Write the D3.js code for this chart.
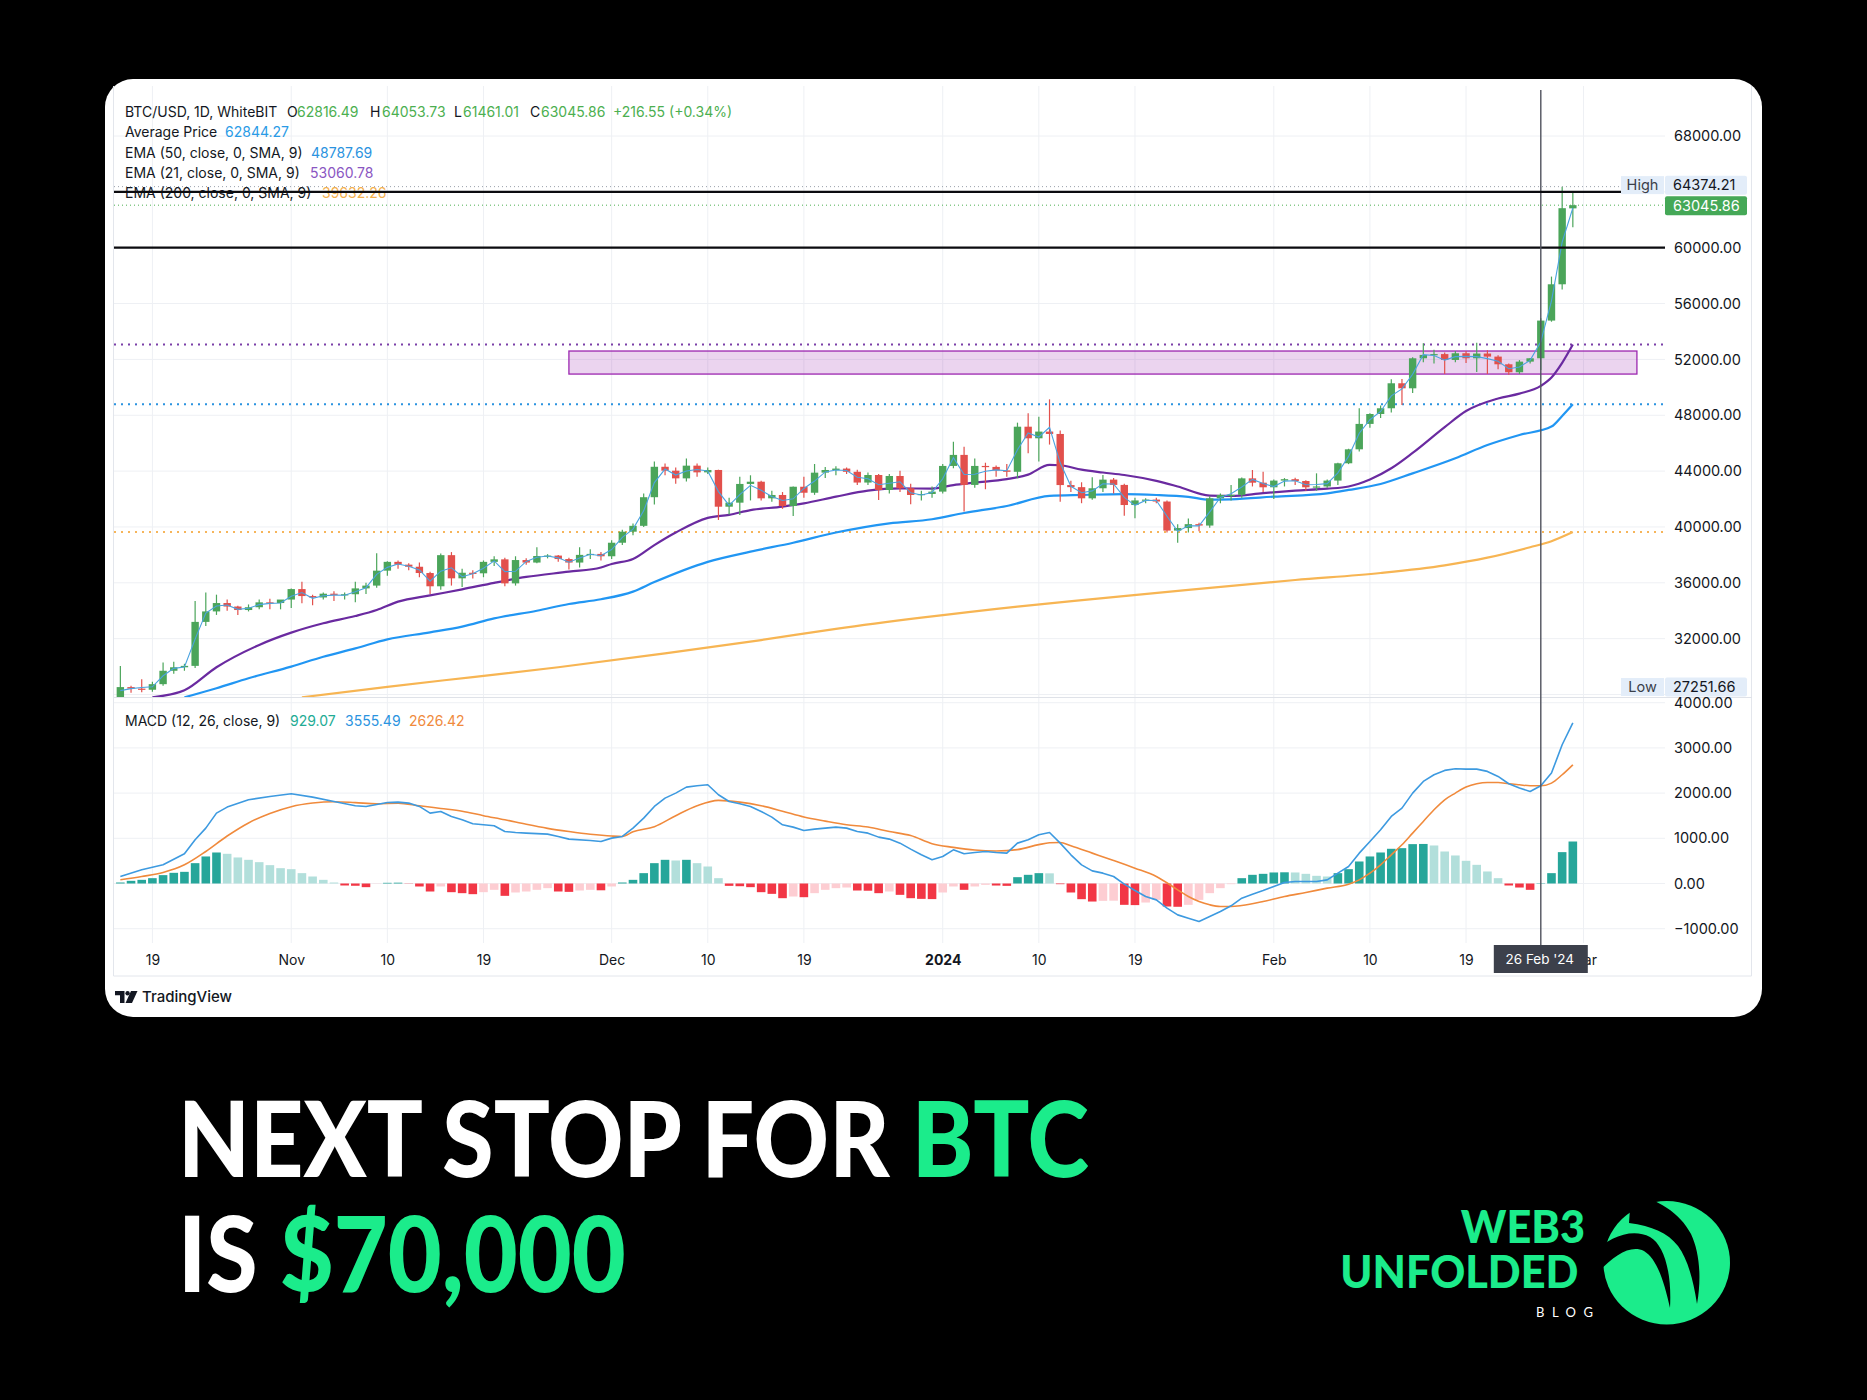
<!DOCTYPE html>
<html>
<head>
<meta charset="utf-8">
<script src="https://cdn.jsdelivr.net/npm/d3@7"></script>
<style>
  html, body { margin: 0; padding: 0; background: #000; }
  svg { display: block; }
</style>
</head>
<body>
<svg id="chart" width="1867" height="1400"></svg>
<script>
// ---------------- data: BTC/USD daily, WhiteBIT ----------------
const firstDay = "2023-10-16";

const opens = [27280,28530,28420,28340,28740,29700,29950,30050,33200,33950,34550,34300,34050,34250,34600,34550,
  34800,35550,35050,34950,35220,35150,35180,35600,35800,36870,37500,37300,37150,36700,35750,37980,36320,36720,36680,37500,37680,35960,37630,37450,37920,37950,37700,37450,38000,38070,
  37900,38870,39660,40080,42130,44310,44030,43480,44390,43910,44080,41450,41740,43080,43240,42050,42290,41500,42880,42450,43890,44080,44180,43950,43180,43720,42650,43650,42770,42290,42360,
  42530,44370,45160,43010,44370,44300,44050,43950,47180,46350,46830,46660,43000,42850,42050,42770,43390,43010,41570,41900,41960,41820,39740,39920,40200,40100,42050,42290,42300,43480,43170,
  42840,43320,43420,43290,42840,42900,43320,44560,45560,47380,48090,48500,50290,49930,52080,52320,52380,51960,52440,52080,52420,52200,51650,51080,51840,52080,54780,57380,62816.49];
const highs = [30040,28620,29090,28920,30300,30350,30200,34700,35300,35150,34800,34350,34450,34800,34850,34750,
  35600,36080,35150,35300,35400,35300,36080,36000,38110,37550,37600,37400,37450,36800,38100,38200,37000,36900,37600,37900,37800,37900,37750,38540,38050,38000,37800,38540,38400,38200,
  39050,39800,40250,42400,44680,44550,44250,44900,44550,44250,44100,42100,43600,43700,43300,42600,42500,42900,43600,44510,44300,44350,44250,44100,43900,43800,43800,44030,43100,42600,42900,
  44500,46110,45750,44900,44600,44400,44500,47470,48140,47900,49140,46900,43300,43200,43560,43720,43500,43100,42100,42050,42100,41900,40200,40600,40300,42200,42400,43000,43550,44080,43960,
  43400,43500,43530,43350,43840,43400,44600,45600,48500,48150,48700,50570,50600,52150,53150,52700,52500,52600,52600,53200,52650,52300,51700,51950,52100,54950,57930,64374.21,64053.73];
const lows = [27251.66,28120,28160,28200,28620,29480,29700,29900,32900,33700,34000,33700,33950,34100,34100,34100,
  34200,34530,34400,34800,34700,34800,34600,35200,35650,36500,37000,36900,36400,35200,35500,35800,35700,36300,36400,37200,35750,35800,37300,37400,37750,37500,36960,37100,37700,37600,
  37700,38700,39400,40000,41600,43700,43100,43250,43600,43800,40500,40900,40860,41900,41900,41800,41300,40790,42100,42300,43500,43700,43800,43000,43000,41930,42400,42500,41620,41900,42100,
  42400,44200,41100,42800,42700,43600,43600,43500,45280,44680,45900,41810,42500,41700,41950,42500,42400,40800,40620,41700,41700,39600,38870,39600,39700,39950,41700,41900,42100,42900,42500,
  42000,42900,43000,42600,42600,42800,43000,44500,45400,47100,47800,48200,48740,49600,51800,51700,50950,51800,51750,51100,50950,51300,50900,50950,51700,51240,54700,57000,61461.01];
const closes = [28530,28420,28340,28740,29700,29950,30050,33200,33950,34550,34300,34050,34250,34600,34550,34800,
  35550,35050,34950,35220,35150,35180,35600,35800,36870,37500,37300,37150,36700,35750,37980,36320,36720,36680,37500,37680,35960,37630,37450,37920,37950,37700,37450,38000,38070,37900,
  38870,39660,40080,42130,44310,44030,43480,44390,43910,44080,41450,41740,43080,43240,42050,42290,41500,42880,42450,43890,44080,44180,43950,43180,43720,42650,43650,42770,42290,42360,42530,
  44370,45160,43010,44370,44300,44050,43950,47180,46350,46830,46660,43000,42850,42050,42770,43390,43010,41570,41900,41960,41820,39740,39920,40200,40100,42050,42290,42300,43480,43170,42840,
  43320,43420,43290,42840,42900,43320,44560,45560,47380,48090,48500,50290,49930,52080,52320,52380,51960,52440,52080,52420,52200,51650,51080,51840,52080,54780,57380,62829.31,63045.86];

// moving averages, [day number, value]
const ema21 = [[3,27800],[6,28300],[9,29950],[13,31550],[16,32430],[19,33100],[22,33620],[24,34050],[26,34650],[29,35100],
  [32,35530],[35,36000],[38,36420],[42,36800],[45,37100],[46,37350],[48,37700],[50,38700],[52,39600],[55,40650],[57,40870],
  [59,41200],[62,41460],[64,41690],[67,42170],[70,42600],[73,42760],[76,42750],[78,43000],[80,43170],[83,43420],[85,43750],
  [87,44440],[88,44420],[90,44100],[92,43900],[94,43720],[97,43300],[99,42900],[102,42250],[104,42220],[107,42420],[110,42600],
  [113,42740],[115,42900],[117,43400],[119,44200],[121,45300],[124,47150],[126,48300],[129,49200],[131,49550],[133,50100],
  [134,50700],[135,51750],[136,53060.78]];
const ema50 = [[6,27800],[9,28450],[12,29160],[16,30000],[19,30700],[22,31300],[25,31950],[29,32450],[32,32860],[35,33450],
  [39,34000],[42,34480],[45,34820],[48,35370],[50,36050],[55,37500],[59,38230],[63,38870],[67,39600],[72,40260],[76,40550],
  [79,41000],[83,41500],[87,42220],[90,42290],[94,42350],[97,42290],[100,42150],[102,41950],[104,41980],[108,42170],[113,42410],
  [115,42650],[118,43080],[121,43840],[125,44920],[128,45870],[131,46590],[134,47190],[135,47950],[136,48787.69]];
const ema200 = [[17,27800],[25,28550],[33,29250],[41,29950],[51,30950],[60,31900],[67,32700],[75,33500],[84,34300],[92,34900],
  [100,35500],[110,36200],[118,36700],[124,37250],[128,37800],[132,38550],[134,38980],[136,39632.26]];

// MACD (12, 26, close, 9)
const macdHist = [22,59,81,118,185,236,258,450,598,686,657,576,524,472,406,339,317,229,155,81,22,
  -44,-50,-81,-5,15,18,-5,-66,-177,-66,-192,-214,-236,-192,-140,-273,-199,-177,-140,-103,-177,-185,-155,-140,-150,-66,
  22,81,229,450,524,509,524,450,376,118,
  -52,-60,-81,-192,-229,-325,-288,-303,-214,-140,-103,-89,-155,-160,-214,-177,-251,-325,-340,-345,-199,-66,-140,-66,-30,-45,-52,
  140,192,229,225,
  -15,-199,-347,-399,-384,-380,-472,-478,-421,-362,-509,-515,-472,-362,-214,-103,-15,
  118,192,214,244,248,244,214,170,155,229,317,487,598,686,768,782,871,875,841,708,620,502,413,266,118,-44,-89,-140,8,229,694,929.07];
const macdLine = [[0,155],[2,303],[4,413],[6,657],[7,967],[8,1225],[9,1557],[10,1690],[12,1852],[14,1926],[16,1985],[18,1911],
  [20,1815],[22,1719],[23,1705],[25,1793],[26,1800],[27,1779],[28,1705],[29,1557],[30,1594],[31,1483],[32,1410],[33,1321],
  [34,1299],[35,1277],[36,1151],[37,1129],[38,1114],[40,1092],[41,1041],[42,982],[44,952],[45,930],[46,1004],[47,1041],
  [48,1225],[49,1446],[50,1705],[51,1889],[52,2000],[53,2133],[54,2162],[55,2184],[56,1963],[57,1815],[58,1764],[59,1705],
  [60,1594],[61,1469],[62,1299],[63,1247],[64,1173],[65,1203],[66,1225],[67,1247],[68,1225],[69,1151],[70,1114],[71,1026],
  [72,982],[73,893],[74,760],[75,635],[76,524],[77,598],[78,745],[79,657],[80,686],[81,708],[82,686],[83,672],[84,893],
  [85,967],[86,1077],[87,1129],[88,893],[89,635],[90,413],[91,280],[92,229],[93,155],[94,-15],[95,-155],[96,-288],[97,-362],
  [98,-546],[99,-694],[100,-768],[101,-841],[102,-731],[103,-620],[104,-494],[105,-325],[106,-236],[107,-155],[108,-66],
  [109,22],[110,44],[111,44],[112,44],[113,81],[114,229],[115,376],[116,672],[117,930],[118,1188],[119,1483],[120,1668],
  [121,2000],[122,2258],[123,2406],[124,2502],[125,2539],[126,2531],[127,2531],[128,2480],[129,2369],[130,2207],[131,2111],
  [132,2037],[133,2162],[134,2443],[135,3070],[136,3555.49]];
const signalLine = [[0,81],[2,155],[4,244],[6,413],[8,708],[10,1050],[12,1340],[14,1550],[16,1700],[18,1780],[20,1810],
  [22,1790],[24,1764],[26,1779],[28,1720],[30,1660],[32,1600],[34,1500],[36,1410],[38,1310],[40,1220],[42,1150],[44,1090],
  [46,1050],[47,1041],[48,1144],[50,1255],[52,1500],[54,1720],[56,1840],[58,1800],[60,1720],[62,1600],[64,1470],[66,1380],
  [68,1300],[70,1250],[72,1150],[74,1060],[76,880],[78,800],[80,740],[82,720],[84,750],[86,860],[87,900],[88,908],[89,834],
  [91,672],[93,509],[95,339],[97,155],[99,-140],[100,-288],[101,-399],[102,-472],[103,-509],[104,-509],[105,-487],[107,-399],
  [109,-288],[111,-199],[113,-103],[115,-15],[116,81],[117,229],[118,413],[119,635],[120,856],[121,1114],[122,1373],
  [123,1631],[124,1852],[125,2000],[126,2133],[127,2207],[128,2236],[129,2236],[130,2207],[131,2184],[132,2162],[133,2162],
  [134,2221],[135,2406],[136,2626.42]];

// drawn levels and zone
const solidLevels = [64000, 60000];
const zoneDates = ["2023-11-27", "2024-03-06"];
const zonePrices = [50950, 52600];
const cursorDate = "2024-02-26";

// axes
const priceGrid = [28000,32000,36000,40000,44000,48000,52000,56000,60000,64000,68000];
const priceTicks = [68000,60000,56000,52000,48000,44000,40000,36000,32000];
const macdTicks = [4000,3000,2000,1000,0,-1000];
const timeTicks = [["2023-10-19","19"],["2023-11-01","Nov"],["2023-11-10","10"],["2023-11-19","19"],["2023-12-01","Dec"],
  ["2023-12-10","10"],["2023-12-19","19"],["2024-01-01","2024"],["2024-01-10","10"],["2024-01-19","19"],["2024-02-01","Feb"],
  ["2024-02-10","10"],["2024-02-19","19"],["2024-03-01","Mar"]];

// ---------------- layout ----------------
const W = 1867, H = 1400;
const plotL = 114, plotR = 1665, axisR = 1752;
const priceTop = 86, priceBottom = 697, macdBottom = 943, timeBottom = 976;
const UI_FONT = "Inter, Roboto, 'Liberation Sans', sans-serif";
const TXT = "#131722";
const UP = "#4ba55a", DOWN = "#e2504c";

const parse = d3.utcParse("%Y-%m-%d");
const day0 = parse(firstDay);
const dayDate = i => d3.utcDay.offset(day0, i);

const x = d3.scaleUtc()
  .domain([parse("2023-10-19"), parse("2024-02-26")])
  .range([152.4, 1540.8]);
const yP = d3.scaleLinear().domain([28000, 68000]).range([694.5, 136]);
const yM = d3.scaleLinear().domain([-1000, 4000]).range([928.7, 702.7]);
const fmt2 = d3.format(".2f");

const svg = d3.select("#chart");
svg.append("rect").attr("width", W).attr("height", H).attr("fill", "#000");

// white card
svg.append("rect").attr("x", 105).attr("y", 79).attr("width", 1657).attr("height", 938)
  .attr("rx", 28).attr("fill", "#fff");

const defs = svg.append("defs");
defs.append("clipPath").attr("id", "clipPrice").append("rect")
  .attr("x", plotL).attr("y", priceTop).attr("width", plotR - plotL).attr("height", priceBottom - priceTop);
defs.append("clipPath").attr("id", "clipMacd").append("rect")
  .attr("x", plotL).attr("y", priceBottom).attr("width", plotR - plotL).attr("height", macdBottom - priceBottom);

// ---------------- grid ----------------
const grid = svg.append("g").attr("stroke", "#eef0f4").attr("stroke-width", 1);
grid.selectAll("line.v").data(timeTicks).join("line")
  .attr("x1", d => x(parse(d[0]))).attr("x2", d => x(parse(d[0])))
  .attr("y1", priceTop).attr("y2", macdBottom);
grid.selectAll("line.hp").data(priceGrid).join("line")
  .attr("x1", plotL).attr("x2", plotR).attr("y1", d => yP(d)).attr("y2", d => yP(d));
grid.selectAll("line.hm").data(macdTicks).join("line")
  .attr("x1", plotL).attr("x2", plotR).attr("y1", d => yM(d)).attr("y2", d => yM(d));

// frame lines of the chart widget
const frame = svg.append("g").attr("stroke", "#e3e6ec").attr("stroke-width", 1).attr("fill", "none");
frame.append("line").attr("x1", plotL - 0.5).attr("x2", plotL - 0.5).attr("y1", priceTop).attr("y2", timeBottom);
frame.append("line").attr("x1", axisR - 0.5).attr("x2", axisR - 0.5).attr("y1", priceTop).attr("y2", timeBottom);
frame.append("line").attr("x1", plotL - 0.5).attr("x2", axisR - 0.5).attr("y1", timeBottom).attr("y2", timeBottom);
frame.append("line").attr("x1", plotL).attr("x2", axisR).attr("y1", priceBottom + 0.5).attr("y2", priceBottom + 0.5)
  .attr("stroke", "#dfe2e8");

// ---------------- price pane ----------------
const gP = svg.append("g").attr("clip-path", "url(#clipPrice)");

// zone rectangle
gP.append("rect")
  .attr("x", x(parse(zoneDates[0]))).attr("width", x(parse(zoneDates[1])) - x(parse(zoneDates[0])))
  .attr("y", yP(zonePrices[1])).attr("height", yP(zonePrices[0]) - yP(zonePrices[1]))
  .attr("fill", "rgba(156,39,176,0.2)").attr("stroke", "#9c27b0").attr("stroke-width", 1.3);

const candles = opens.map((o, i) => ({ date: dayDate(i), o, h: highs[i], l: lows[i], c: closes[i] }));
const last = candles[candles.length - 1];
const prevClose = candles[candles.length - 2].c;
const maxHigh = d3.max(highs), minLow = d3.min(lows);

// value lines (dotted) at latest readings
const dotted = [
  { v: ema21[ema21.length - 1][1], color: "#7b3fa8", w: 2, dash: "2 5" },
  { v: ema50[ema50.length - 1][1], color: "#2a93e0", w: 2, dash: "2 5" },
  { v: ema200[ema200.length - 1][1], color: "#f6b55a", w: 2, dash: "2 5" },
  { v: last.c, color: "#4caf50", w: 1, dash: "1 3" }
];
gP.selectAll("line.dot").data(dotted).join("line")
  .attr("x1", plotL).attr("x2", plotR).attr("y1", d => yP(d.v)).attr("y2", d => yP(d.v))
  .attr("stroke", d => d.color).attr("stroke-width", d => d.w).attr("stroke-dasharray", d => d.dash);

// EMA lines
const emaLine = d3.line().x(p => x(dayDate(p[0]))).y(p => yP(p[1])).curve(d3.curveMonotoneX);
[[ema200, "#f7b553"], [ema50, "#2196f3"], [ema21, "#6a2aa0"]].forEach(([pts, col]) => {
  gP.append("path").datum(pts).attr("d", emaLine).attr("fill", "none")
    .attr("stroke", col).attr("stroke-width", 2.2).attr("stroke-linejoin", "round");
});

// candles
const bw = 7.4;
gP.selectAll("line.wick").data(candles).join("line")
  .attr("x1", d => x(d.date)).attr("x2", d => x(d.date))
  .attr("y1", d => yP(d.h)).attr("y2", d => yP(d.l))
  .attr("stroke", d => d.c >= d.o ? UP : DOWN).attr("stroke-width", 1.2);
gP.selectAll("rect.body").data(candles).join("rect")
  .attr("x", d => x(d.date) - bw / 2).attr("width", bw)
  .attr("y", d => yP(Math.max(d.o, d.c)))
  .attr("height", d => Math.max(1.2, Math.abs(yP(d.o) - yP(d.c))))
  .attr("fill", d => d.c >= d.o ? UP : DOWN);

// average price (OHLC/4) line
const avgLine = d3.line().x(d => x(d.date)).y(d => yP((d.o + d.h + d.l + d.c) / 4));
gP.append("path").datum(candles).attr("d", avgLine).attr("fill", "none")
  .attr("stroke", "#4aa3e0").attr("stroke-width", 1.1);

// 60000 level
gP.selectAll("line.lvl").data(solidLevels.filter(v => yP(v) >= 210)).join("line")
  .attr("x1", plotL).attr("x2", plotR).attr("y1", d => yP(d)).attr("y2", d => yP(d))
  .attr("stroke", "#0b0b0f").attr("stroke-width", 2.2);

// ---------------- MACD pane ----------------
const gM = svg.append("g").attr("clip-path", "url(#clipMacd)");
const hb = 8.6;
gM.selectAll("rect.hist").data(macdHist).join("rect")
  .attr("x", (v, i) => x(dayDate(i)) - hb / 2).attr("width", hb)
  .attr("y", v => Math.min(yM(v), yM(0)))
  .attr("height", v => Math.abs(yM(v) - yM(0)))
  .attr("fill", (v, i) => {
    const prev = i > 0 ? macdHist[i - 1] : v - 1;
    if (v >= 0) return prev < v ? "#26a69a" : "#b2dfdb";
    return prev > v ? "#f23645" : "#fdcdd2";
  });
gM.append("path").datum(signalLine)
  .attr("d", d3.line().x(p => x(dayDate(p[0]))).y(p => yM(p[1])).curve(d3.curveMonotoneX))
  .attr("fill", "none").attr("stroke", "#f08a3c").attr("stroke-width", 1.6);
gM.append("path").datum(macdLine)
  .attr("d", d3.line().x(p => x(dayDate(p[0]))).y(p => yM(p[1])))
  .attr("fill", "none").attr("stroke", "#3d9ae0").attr("stroke-width", 1.6).attr("stroke-linejoin", "round");

// ---------------- axes ----------------
const axisStyle = g => {
  g.select(".domain").remove();
  g.selectAll("text").attr("fill", TXT).attr("font-family", UI_FONT).attr("font-size", 14.5);
};
svg.append("g").attr("transform", `translate(${plotR},0)`)
  .call(d3.axisRight(yP).tickValues(priceTicks).tickFormat(fmt2).tickSize(0).tickPadding(9))
  .call(axisStyle);
svg.append("g").attr("transform", `translate(${plotR},0)`)
  .call(d3.axisRight(yM).tickValues(macdTicks).tickFormat(fmt2).tickSize(0).tickPadding(9))
  .call(axisStyle);
const tAxis = svg.append("g").attr("transform", `translate(0,${macdBottom})`)
  .call(d3.axisBottom(x).tickValues(timeTicks.map(t => parse(t[0])))
    .tickFormat((d, i) => timeTicks[i][1]).tickSize(0).tickPadding(12))
  .call(axisStyle);
tAxis.selectAll("text").attr("font-size", 14)
  .attr("font-weight", (d, i) => timeTicks[i][1] === "2024" ? 700 : 400);

// price scale badges
function badge(label, value, yc, bg, fg) {
  const g = svg.append("g").attr("font-family", UI_FONT).attr("font-size", 14.5);
  if (label) {
    g.append("rect").attr("x", 1621).attr("y", yc - 9).attr("width", 43).attr("height", 18).attr("fill", bg);
    g.append("text").attr("x", 1642.5).attr("y", yc + 5).attr("text-anchor", "middle").attr("fill", "#3b3f4a").text(label);
  }
  g.append("rect").attr("x", plotR).attr("y", yc - 9.5).attr("width", 82).attr("height", 19).attr("rx", 2).attr("fill", bg);
  g.append("text").attr("x", plotR + 8).attr("y", yc + 5).attr("fill", fg).text(fmt2(value));
}
badge("High", maxHigh, yP(maxHigh) - 1.5, "#e3edf9", TXT);
badge(null, last.c, yP(last.c) + 0.5, "#45a857", "#fff");
badge("Low", minLow, Math.min(yP(minLow), priceBottom - 10), "#e3edf9", TXT);

// cursor line and date badge
const cx = x(parse(cursorDate));
svg.append("line").attr("x1", cx).attr("x2", cx).attr("y1", 90).attr("y2", macdBottom + 2)
  .attr("stroke", "#50535e").attr("stroke-width", 1.4);
const fmtCursor = d3.utcFormat("%-d %b '%y");
svg.append("rect").attr("x", cx - 47).attr("y", macdBottom + 2).attr("width", 94).attr("height", 28)
  .attr("fill", "#3c404b");
svg.append("text").attr("x", cx - 1).attr("y", macdBottom + 21).attr("text-anchor", "middle")
  .attr("font-family", UI_FONT).attr("font-size", 13.5).attr("fill", "#fff").text(fmtCursor(parse(cursorDate)));

// ---------------- legends ----------------
const lg = svg.append("g").attr("font-family", UI_FONT).attr("font-size", 14);
function legend(y, parts) {
  parts.forEach(([t, xp, col]) => lg.append("text").attr("x", xp).attr("y", y).attr("fill", col).text(t));
}
const G = "#4caf50";
const chg = last.c - prevClose;
legend(116.5, [["BTC/USD, 1D, WhiteBIT", 125, TXT], ["O", 287, TXT], [fmt2(last.o), 297, G], ["H", 370, TXT],
  [fmt2(last.h), 382, G], ["L", 454, TXT], [fmt2(last.l), 463, G], ["C", 530, TXT], [fmt2(last.c), 541, G],
  [`${chg >= 0 ? "+" : ""}${fmt2(chg)} (${chg >= 0 ? "+" : ""}${fmt2(chg / prevClose * 100)}%)`, 613, G]]);
legend(137, [["Average Price", 125, TXT], [fmt2((last.o + last.h + last.l + last.c) / 4), 225, "#2a9be6"]]);
legend(157.5, [["EMA (50, close, 0, SMA, 9)", 125, TXT], [fmt2(ema50[ema50.length - 1][1]), 311, "#2a93e0"]]);
legend(177.5, [["EMA (21, close, 0, SMA, 9)", 125, TXT], [fmt2(ema21[ema21.length - 1][1]), 310, "#8a56c2"]]);
legend(197.5, [["EMA (200, close, 0, SMA, 9)", 125, TXT], [fmt2(ema200[ema200.length - 1][1]), 322, "#f5b04c"]]);
legend(725.5, [["MACD (12, 26, close, 9)", 125, TXT], [fmt2(macdHist[macdHist.length - 1]), 290, "#22ab94"],
  [fmt2(macdLine[macdLine.length - 1][1]), 345, "#2a93e0"], [fmt2(signalLine[signalLine.length - 1][1]), 409, "#f08a3c"]]);

// the 64000 level and the high marker run over the legend text
svg.append("line").attr("x1", plotL).attr("x2", 1621).attr("y1", yP(maxHigh)).attr("y2", yP(maxHigh))
  .attr("stroke", "#9aa0ab").attr("stroke-width", 1).attr("stroke-dasharray", "1 3");
svg.selectAll("line.lvlTop").data(solidLevels.filter(v => yP(v) < 210)).join("line")
  .attr("x1", plotL).attr("x2", 1621).attr("y1", d => yP(d)).attr("y2", d => yP(d))
  .attr("stroke", "#0b0b0f").attr("stroke-width", 2.2);

// TradingView mark
const tv = svg.append("g").attr("transform", "translate(115,991)").attr("fill", TXT);
tv.append("path").attr("d", "M0,0 H9.5 V12 H5 V4.3 H0 Z");
tv.append("circle").attr("cx", 12.6).attr("cy", 2.2).attr("r", 2.2);
tv.append("path").attr("d", "M16,0 H22.5 L17,12 H10.5 Z");
svg.append("text").attr("x", 142).attr("y", 1002).attr("font-family", UI_FONT).attr("font-size", 15)
  .attr("font-weight", 500).attr("fill", TXT).text("TradingView");

// ---------------- headline ----------------
const NEON = "#1bec8b";
const HEAD_FONT = "Lato, 'Open Sans', sans-serif";
// measure the first line to condense the face to the layout width
const probe = svg.append("text").attr("font-family", HEAD_FONT).attr("font-weight", 900).attr("font-size", 104)
  .text("NEXT STOP FOR BTC");
const headScale = 911 / probe.node().getComputedTextLength();
probe.remove();
const head = svg.append("text").attr("font-family", HEAD_FONT).attr("font-weight", 900).attr("font-size", 104)
  .attr("transform", `translate(178,1177) scale(${headScale},1)`);
head.append("tspan").attr("x", 0).attr("y", 0).attr("fill", "#fff").text("NEXT STOP FOR ");
head.append("tspan").attr("fill", NEON).text("BTC");
head.append("tspan").attr("x", 0).attr("y", 115).attr("fill", "#fff").text("IS ");
head.append("tspan").attr("fill", NEON).text("$70,000");

// ---------------- brand mark ----------------
const brand = svg.append("text").attr("font-family", HEAD_FONT).attr("font-weight", 900).attr("font-size", 46)
  .attr("fill", NEON).attr("text-anchor", "end").attr("transform", "translate(1585,0) scale(0.94,1)");
brand.append("tspan").attr("x", 0).attr("y", 1243).text("WEB3");
brand.append("tspan").attr("x", -7).attr("y", 1288).text("UNFOLDED");
svg.append("text").attr("x", 1536).attr("y", 1317).attr("font-family", HEAD_FONT).attr("font-size", 13)
  .attr("fill", "#fff").attr("textLength", 57).attr("lengthAdjust", "spacing").text("BLOG");
const icon = svg.append("g").attr("transform", "translate(1595,1192)");
icon.append("ellipse").attr("cx", 71.7).attr("cy", 70.7).attr("rx", 63.3).attr("ry", 61.7).attr("fill", NEON);
icon.append("path").attr("fill", "#000")
  .attr("d", "M-2,62 C14,44 38,36 55,45 C69,53 77,80 75,116 C69,89 62,67 49,59 C35,52 17,64 -2,86 Z");
icon.append("path").attr("fill", "#000")
  .attr("d", "M36,2 C62,6 85,21 96,42 C104,59 107,84 102,112 C98,86 92,66 83,54 C73,41 57,34 34,31 Z");
</script>
</body>
</html>
